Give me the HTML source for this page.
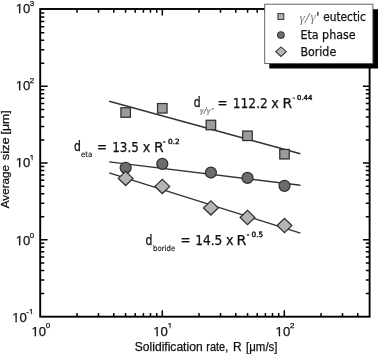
<!DOCTYPE html>
<html><head><meta charset="utf-8"><title>Average size vs solidification rate</title>
<style>
html,body{margin:0;padding:0;background:#fff;}
body{width:378px;height:354px;overflow:hidden;}
svg{display:block;}
.a{font-family:"Liberation Sans",Arial,Helvetica,sans-serif;fill:#111;stroke:#111;stroke-width:0.25px;}
.t{font-family:"DejaVu Sans Condensed","DejaVu Sans","Liberation Sans",sans-serif;fill:#111;stroke:#111;stroke-width:0.25px;}
.u{font-family:"DejaVu Sans Condensed","DejaVu Sans","Liberation Sans",sans-serif;fill:#111;stroke:#111;stroke-width:0.12px;}
.s{font-family:"DejaVu Sans Condensed","DejaVu Sans","Liberation Sans",sans-serif;fill:#111;stroke:#111;stroke-width:0.4px;}
.g{font-family:"Liberation Serif","DejaVu Serif",serif;font-style:italic;}
</style></head><body>
<svg width="378" height="354" viewBox="0 0 378 354">
<rect x="0" y="0" width="378" height="354" fill="#fff"/>
<path d="M40.20 293.50h4.1 M369.60 293.50h-3.8 M40.20 279.98h4.1 M369.60 279.98h-3.8 M40.20 270.39h4.1 M369.60 270.39h-3.8 M40.20 262.95h4.1 M369.60 262.95h-3.8 M40.20 256.88h4.1 M369.60 256.88h-3.8 M40.20 251.74h4.1 M369.60 251.74h-3.8 M40.20 247.29h4.1 M369.60 247.29h-3.8 M40.20 243.36h4.1 M369.60 243.36h-3.8 M40.20 239.85h7.4 M369.60 239.85h-6.6 M40.20 216.75h4.1 M369.60 216.75h-3.8 M40.20 203.23h4.1 M369.60 203.23h-3.8 M40.20 193.64h4.1 M369.60 193.64h-3.8 M40.20 186.20h4.1 M369.60 186.20h-3.8 M40.20 180.13h4.1 M369.60 180.13h-3.8 M40.20 174.99h4.1 M369.60 174.99h-3.8 M40.20 170.54h4.1 M369.60 170.54h-3.8 M40.20 166.61h4.1 M369.60 166.61h-3.8 M40.20 163.10h7.4 M369.60 163.10h-6.6 M40.20 140.00h4.1 M369.60 140.00h-3.8 M40.20 126.48h4.1 M369.60 126.48h-3.8 M40.20 116.89h4.1 M369.60 116.89h-3.8 M40.20 109.45h4.1 M369.60 109.45h-3.8 M40.20 103.38h4.1 M369.60 103.38h-3.8 M40.20 98.24h4.1 M369.60 98.24h-3.8 M40.20 93.79h4.1 M369.60 93.79h-3.8 M40.20 89.86h4.1 M369.60 89.86h-3.8 M40.20 86.35h7.4 M369.60 86.35h-6.6 M40.20 63.25h4.1 M369.60 63.25h-3.8 M40.20 49.73h4.1 M369.60 49.73h-3.8 M40.20 40.14h4.1 M369.60 40.14h-3.8 M40.20 32.70h4.1 M369.60 32.70h-3.8 M40.20 26.63h4.1 M369.60 26.63h-3.8 M40.20 21.49h4.1 M369.60 21.49h-3.8 M40.20 17.04h4.1 M369.60 17.04h-3.8 M40.20 13.11h4.1 M369.60 13.11h-3.8 M77.03 316.70v-3.8 M77.03 9.00v3.8 M98.51 316.70v-3.8 M98.51 9.00v3.8 M113.75 316.70v-3.8 M113.75 9.00v3.8 M125.57 316.70v-3.8 M125.57 9.00v3.8 M135.23 316.70v-3.8 M135.23 9.00v3.8 M143.40 316.70v-3.8 M143.40 9.00v3.8 M150.48 316.70v-3.8 M150.48 9.00v3.8 M156.72 316.70v-3.8 M156.72 9.00v3.8 M162.30 316.70v-6.4 M162.30 9.00v6.4 M199.03 316.70v-3.8 M199.03 9.00v3.8 M220.51 316.70v-3.8 M220.51 9.00v3.8 M235.75 316.70v-3.8 M235.75 9.00v3.8 M247.57 316.70v-3.8 M247.57 9.00v3.8 M257.23 316.70v-3.8 M257.23 9.00v3.8 M265.40 316.70v-3.8 M265.40 9.00v3.8 M272.48 316.70v-3.8 M272.48 9.00v3.8 M278.72 316.70v-3.8 M278.72 9.00v3.8 M284.30 316.70v-6.4 M284.30 9.00v6.4 M321.03 316.70v-3.8 M321.03 9.00v3.8 M342.51 316.70v-3.8 M342.51 9.00v3.8 M357.75 316.70v-3.8 M357.75 9.00v3.8" stroke="#000" stroke-width="1.5" fill="none"/>
<rect x="40.2" y="9.0" width="329.40" height="307.70" fill="none" stroke="#000" stroke-width="1.9"/>
<line x1="109.2" y1="101.18" x2="300.4" y2="153.71" stroke="#333" stroke-width="1.5"/>
<line x1="109.2" y1="161.87" x2="300.4" y2="185.32" stroke="#333" stroke-width="1.5"/>
<line x1="109.2" y1="172.89" x2="300.4" y2="233.13" stroke="#333" stroke-width="1.5"/>
<rect x="120.90" y="107.75" width="9.5" height="9.5" fill="#9c9c9c" stroke="#303030" stroke-width="1.25"/>
<rect x="157.55" y="103.55" width="9.5" height="9.5" fill="#9c9c9c" stroke="#303030" stroke-width="1.25"/>
<rect x="206.15" y="120.25" width="9.5" height="9.5" fill="#9c9c9c" stroke="#303030" stroke-width="1.25"/>
<rect x="242.75" y="131.05" width="9.5" height="9.5" fill="#9c9c9c" stroke="#303030" stroke-width="1.25"/>
<rect x="279.75" y="149.45" width="9.5" height="9.5" fill="#9c9c9c" stroke="#303030" stroke-width="1.25"/>
<circle cx="125.65" cy="167.80" r="5.5" fill="#6c6c6c" stroke="#303030" stroke-width="1.25"/>
<circle cx="162.30" cy="163.80" r="5.5" fill="#6c6c6c" stroke="#303030" stroke-width="1.25"/>
<circle cx="210.90" cy="172.50" r="5.5" fill="#6c6c6c" stroke="#303030" stroke-width="1.25"/>
<circle cx="247.50" cy="177.90" r="5.5" fill="#6c6c6c" stroke="#303030" stroke-width="1.25"/>
<circle cx="284.50" cy="185.80" r="5.5" fill="#6c6c6c" stroke="#303030" stroke-width="1.25"/>
<path d="M118.30 178.40L125.65 171.25L133.00 178.40L125.65 185.55Z" fill="#b4b4b4" stroke="#303030" stroke-width="1.25"/>
<path d="M154.95 186.40L162.30 179.25L169.65 186.40L162.30 193.55Z" fill="#b4b4b4" stroke="#303030" stroke-width="1.25"/>
<path d="M203.55 207.90L210.90 200.75L218.25 207.90L210.90 215.05Z" fill="#b4b4b4" stroke="#303030" stroke-width="1.25"/>
<path d="M240.15 217.50L247.50 210.35L254.85 217.50L247.50 224.65Z" fill="#b4b4b4" stroke="#303030" stroke-width="1.25"/>
<path d="M277.15 225.50L284.50 218.35L291.85 225.50L284.50 232.65Z" fill="#b4b4b4" stroke="#303030" stroke-width="1.25"/>
<rect x="269.3" y="9.2" width="108.7" height="59.3" fill="#000"/>
<rect x="264.7" y="4.2" width="108.2" height="59.3" fill="#fff" stroke="#555" stroke-width="0.9"/>
<rect x="277.9" y="13.6" width="5.9" height="5.9" fill="#b0b0b0" stroke="#444" stroke-width="1.1"/>
<circle cx="280.9" cy="35.1" r="3.3" fill="#707070" stroke="#363636" stroke-width="1.1"/>
<path d="M275.7 51.7L281 46.9L286.3 51.7L281 56.5Z" fill="#b8b8b8" stroke="#3a3a3a" stroke-width="1.1"/>
<text class="g" font-size="13.4" fill="#808080"><tspan x="299.4" y="21.6">γ</tspan><tspan x="304.9" y="23.2" font-size="15.5" fill="#5c5c5c">/</tspan><tspan x="310.5" y="21.4">γ</tspan></text>
<text class="t" x="316.3" y="21.4" font-size="12.5">'</text>
<text class="t" x="323.2" y="21.4" font-size="12.5" textLength="42.6" lengthAdjust="spacingAndGlyphs">eutectic</text>
<text class="t" x="300.4" y="38.9" font-size="12.5" textLength="55.2" lengthAdjust="spacingAndGlyphs">Eta phase</text>
<text class="t" x="300.4" y="56.3" font-size="12.5" textLength="35.8" lengthAdjust="spacingAndGlyphs">Boride</text>
<text class="t" x="193.8" y="107.3" font-size="13.3" textLength="6.9" lengthAdjust="spacingAndGlyphs">d</text>
<text class="g" font-size="8.8" fill="#7a7a7a" stroke="#7a7a7a" stroke-width="0.2"><tspan x="200.0" y="112.8">γ</tspan><tspan x="203.7" y="114.0" font-size="9.6" fill="#555" stroke="#555">/</tspan><tspan x="206.7" y="112.8">γ</tspan><tspan x="211.4" y="114.0" fill="#444" stroke="#444">'</tspan></text>
<text class="t" x="217.6" y="107.8" font-size="14" textLength="10.0" lengthAdjust="spacingAndGlyphs">=</text>
<text class="t" x="232.8" y="107.8" font-size="14" textLength="35.0" lengthAdjust="spacingAndGlyphs">112.2</text>
<text class="t" x="271.2" y="107.8" font-size="14" textLength="7.6" lengthAdjust="spacingAndGlyphs">x</text>
<text class="t" x="282.4" y="107.8" font-size="14.5" textLength="9.7" lengthAdjust="spacingAndGlyphs">R</text>
<text class="s" x="292.5" y="99.5" font-size="6.9" textLength="19.8" lengthAdjust="spacingAndGlyphs">- 0.44</text>
<text class="t" x="74.0" y="151.3" font-size="13.3" textLength="6.9" lengthAdjust="spacingAndGlyphs">d</text>
<text class="u" x="80.9" y="157.4" font-size="7.8" fill="#111" textLength="11.6" lengthAdjust="spacingAndGlyphs">eta</text>
<text class="t" x="97.0" y="151.8" font-size="14" textLength="10.0" lengthAdjust="spacingAndGlyphs">=</text>
<text class="t" x="112.2" y="151.8" font-size="14" textLength="26.6" lengthAdjust="spacingAndGlyphs">13.5</text>
<text class="t" x="142.7" y="151.8" font-size="14" textLength="7.6" lengthAdjust="spacingAndGlyphs">x</text>
<text class="t" x="153.9" y="151.8" font-size="14.5" textLength="9.7" lengthAdjust="spacingAndGlyphs">R</text>
<text class="s" x="163.0" y="143.9" font-size="7.2" textLength="16.6" lengthAdjust="spacingAndGlyphs">- 0.2</text>
<text class="t" x="145.6" y="244.9" font-size="13.3" textLength="6.9" lengthAdjust="spacingAndGlyphs">d</text>
<text class="u" x="153.0" y="251.0" font-size="7.8" fill="#111" textLength="22.2" lengthAdjust="spacingAndGlyphs">boride</text>
<text class="t" x="180.4" y="245.4" font-size="14" textLength="10.0" lengthAdjust="spacingAndGlyphs">=</text>
<text class="t" x="195.2" y="245.4" font-size="14" textLength="27.2" lengthAdjust="spacingAndGlyphs">14.5</text>
<text class="t" x="226.0" y="245.4" font-size="14" textLength="7.6" lengthAdjust="spacingAndGlyphs">x</text>
<text class="t" x="236.6" y="245.4" font-size="14.6" textLength="9.9" lengthAdjust="spacingAndGlyphs">R</text>
<text class="s" x="246.7" y="236.7" font-size="7.3" textLength="16.4" lengthAdjust="spacingAndGlyphs">- 0.5</text>
<text class="a" x="34.3" y="5.6" font-size="8" text-anchor="end">3</text>
<text class="a" x="30.4" y="12.7" font-size="13" text-anchor="end" textLength="14.6" lengthAdjust="spacingAndGlyphs">10</text>
<path d="M15.40 10.70h3.52v3.6h-3.52zM20.46 10.70h2.5v3.6h-2.5z" fill="#fff"/>
<text class="a" x="34.3" y="83.2" font-size="8" text-anchor="end">2</text>
<text class="a" x="30.4" y="90.3" font-size="13" text-anchor="end" textLength="14.6" lengthAdjust="spacingAndGlyphs">10</text>
<path d="M15.40 88.30h3.52v3.6h-3.52zM20.46 88.30h2.5v3.6h-2.5z" fill="#fff"/>
<text class="a" x="34.3" y="160.3" font-size="8" text-anchor="end">1</text>
<text class="a" x="30.4" y="167.4" font-size="13" text-anchor="end" textLength="14.6" lengthAdjust="spacingAndGlyphs">10</text>
<path d="M15.40 165.40h3.52v3.6h-3.52zM20.46 165.40h2.5v3.6h-2.5z" fill="#fff"/>
<path d="M30.15 159.00h1.62v2.6h-1.62zM32.73 159.00h1.6v2.6h-1.6z" fill="#fff"/>
<text class="a" x="34.3" y="237.8" font-size="8" text-anchor="end">0</text>
<text class="a" x="30.4" y="244.9" font-size="13" text-anchor="end" textLength="14.6" lengthAdjust="spacingAndGlyphs">10</text>
<path d="M15.40 242.90h3.52v3.6h-3.52zM20.46 242.90h2.5v3.6h-2.5z" fill="#fff"/>
<text class="a" x="33.4" y="314.2" font-size="8" text-anchor="end">-1</text>
<text class="a" x="26.8" y="321.6" font-size="13" text-anchor="end" textLength="14.6" lengthAdjust="spacingAndGlyphs">10</text>
<path d="M11.80 319.60h3.52v3.6h-3.52zM16.86 319.60h2.5v3.6h-2.5z" fill="#fff"/>
<path d="M29.25 312.90h1.62v2.6h-1.62zM31.83 312.90h1.6v2.6h-1.6z" fill="#fff"/>
<text class="a" x="50.2" y="328.4" font-size="8" text-anchor="end">0</text>
<text class="a" x="46.0" y="336.0" font-size="13" text-anchor="end" textLength="14.6" lengthAdjust="spacingAndGlyphs">10</text>
<path d="M31.00 334.00h3.52v3.6h-3.52zM36.06 334.00h2.5v3.6h-2.5z" fill="#fff"/>
<text class="a" x="172.1" y="328.4" font-size="8" text-anchor="end">1</text>
<text class="a" x="167.9" y="336.0" font-size="13" text-anchor="end" textLength="14.6" lengthAdjust="spacingAndGlyphs">10</text>
<path d="M152.90 334.00h3.52v3.6h-3.52zM157.96 334.00h2.5v3.6h-2.5z" fill="#fff"/>
<path d="M167.95 327.10h1.62v2.6h-1.62zM170.53 327.10h1.6v2.6h-1.6z" fill="#fff"/>
<text class="a" x="294.4" y="328.4" font-size="8" text-anchor="end">2</text>
<text class="a" x="290.2" y="336.0" font-size="13" text-anchor="end" textLength="14.6" lengthAdjust="spacingAndGlyphs">10</text>
<path d="M275.20 334.00h3.52v3.6h-3.52zM280.26 334.00h2.5v3.6h-2.5z" fill="#fff"/>
<text class="a" y="351.1" font-size="12"><tspan x="134.8" textLength="67.8" lengthAdjust="spacingAndGlyphs">Solidification</tspan> <tspan x="206.3" textLength="21.9" lengthAdjust="spacingAndGlyphs">rate,</tspan> <tspan x="232.9">R</tspan> <tspan x="246.1" textLength="31.4" lengthAdjust="spacingAndGlyphs">[μm/s]</tspan></text>
<g transform="translate(9.0 208.9) rotate(-90)"><text class="a" font-size="11.5"><tspan x="0.6" textLength="43.4" lengthAdjust="spacingAndGlyphs">Average</tspan> <tspan x="48.6" textLength="23" lengthAdjust="spacingAndGlyphs">size</tspan> <tspan x="74.4" textLength="24.1" lengthAdjust="spacingAndGlyphs">[μm]</tspan></text></g>
</svg>
</body></html>
